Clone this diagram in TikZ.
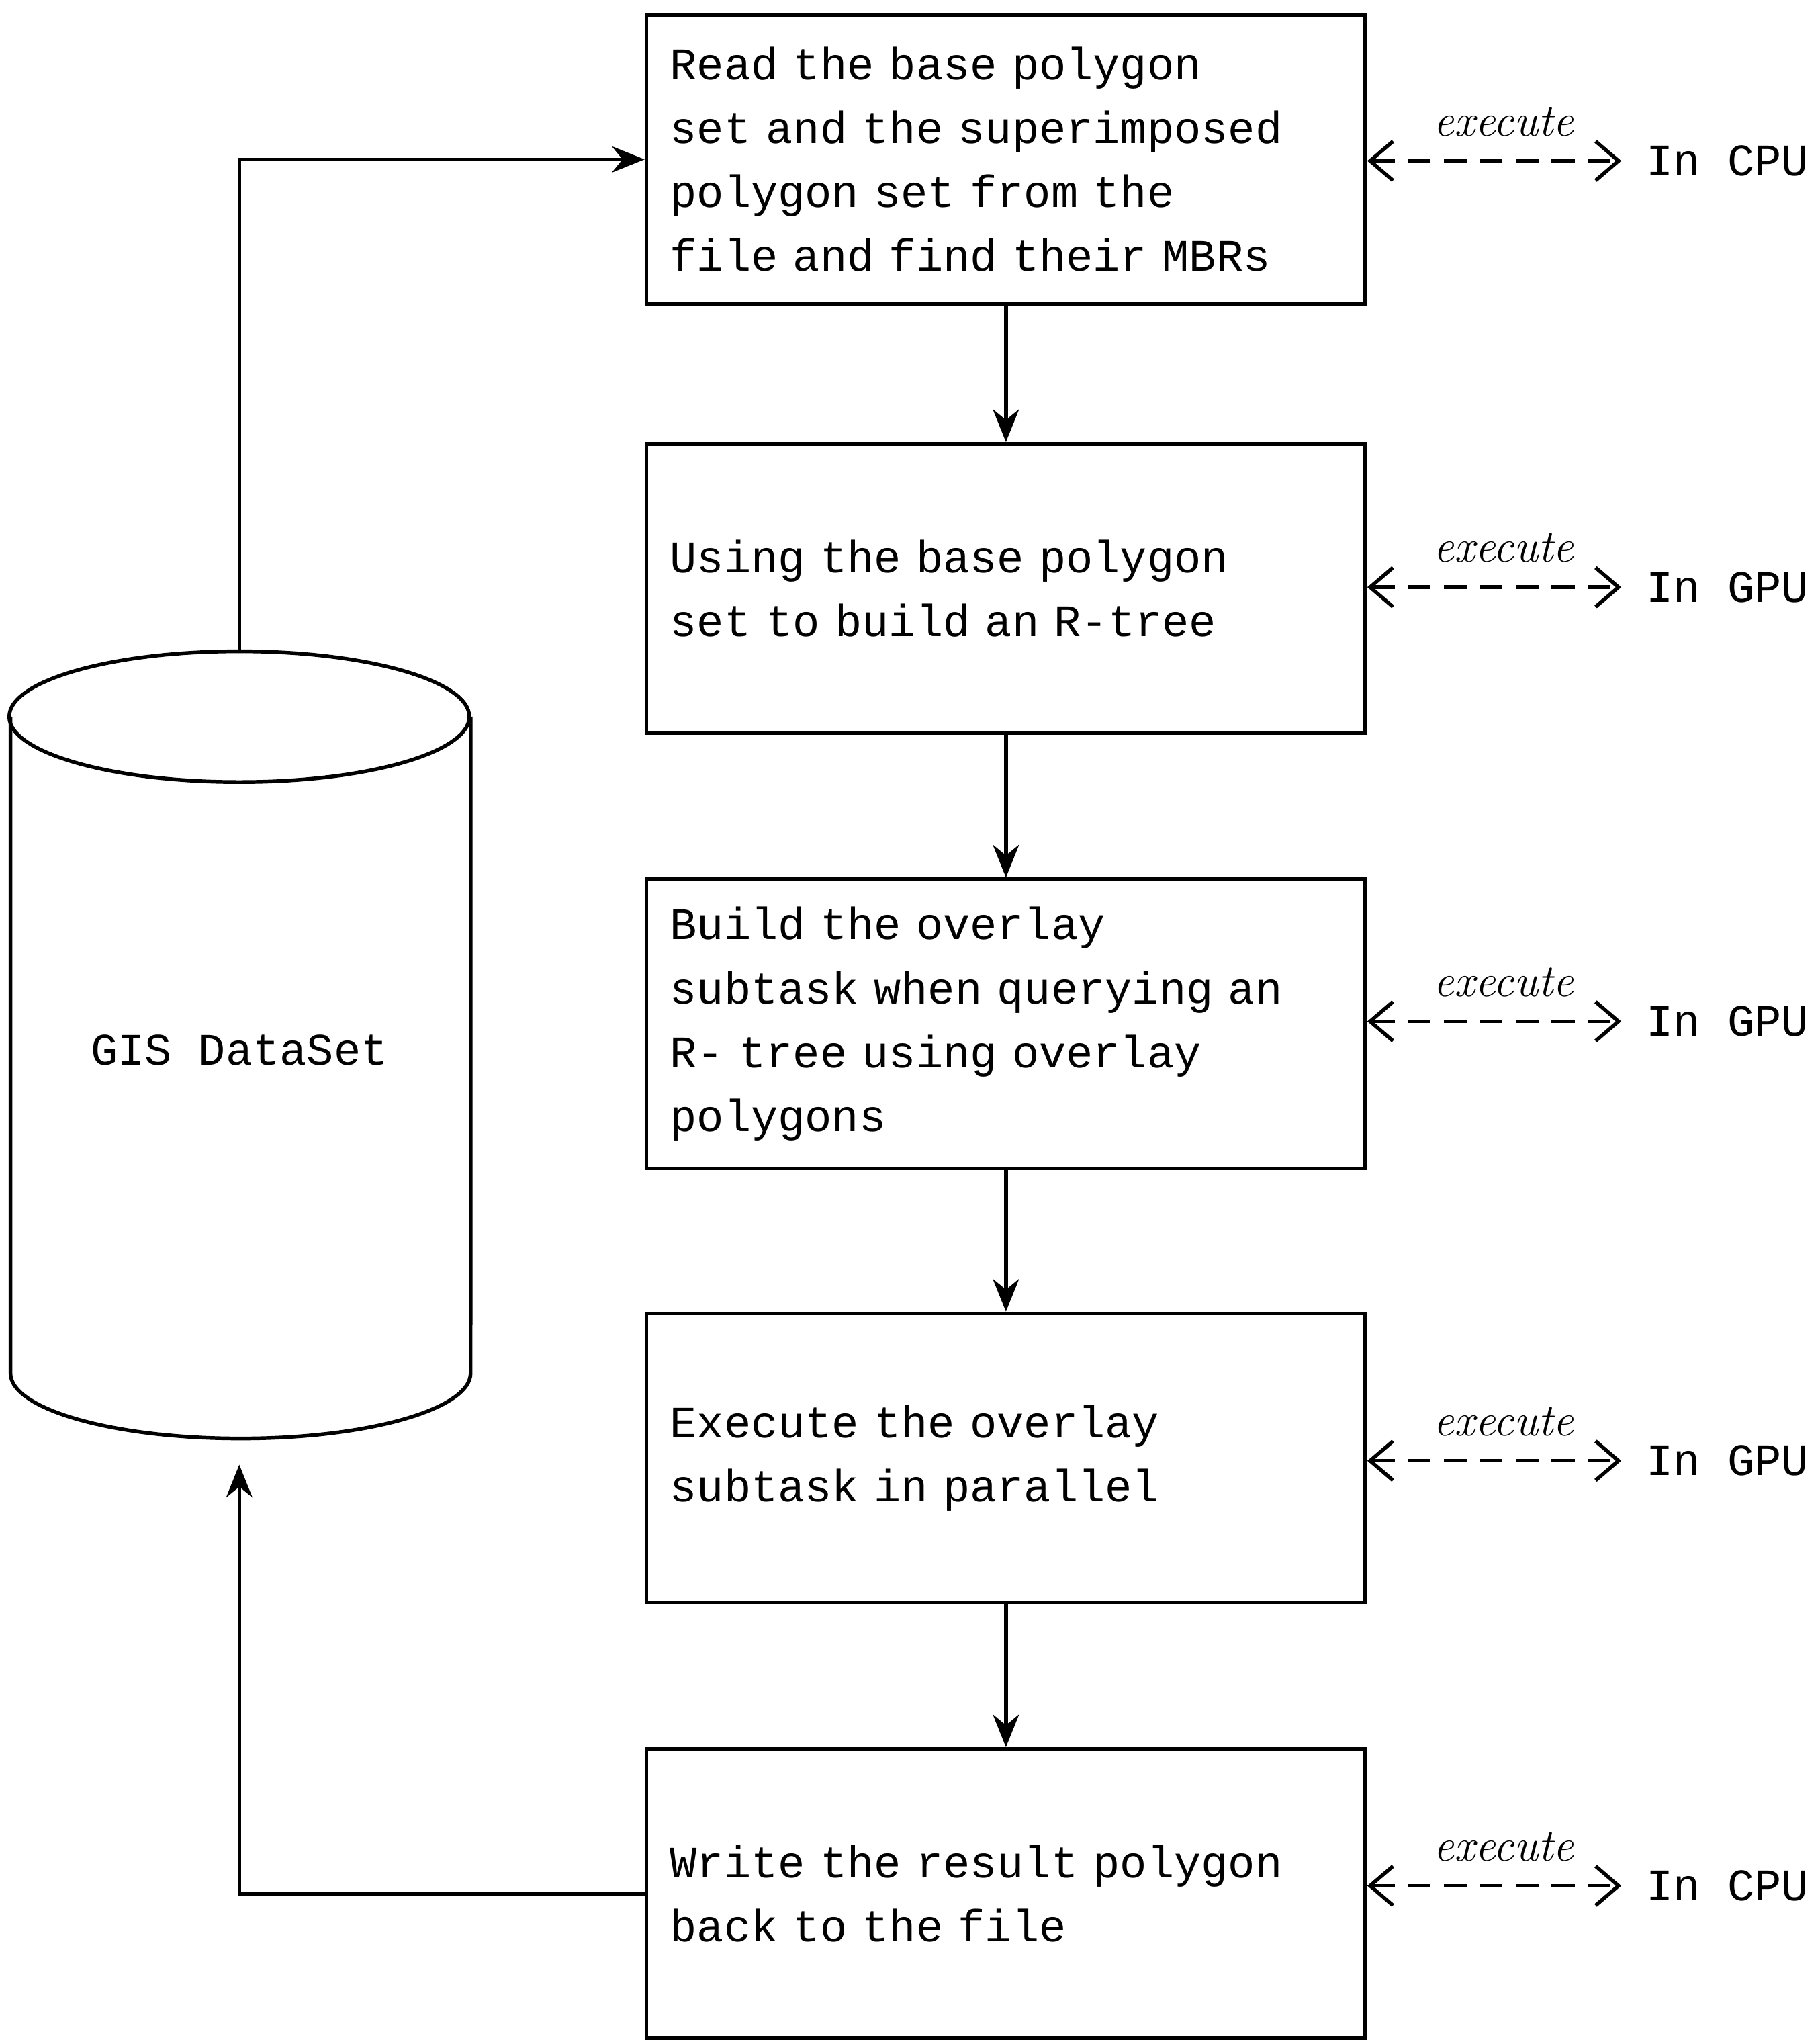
\documentclass[tikz,border=0pt]{standalone}
\usepackage{fontspec}
\setmonofont{Liberation Mono}
\usetikzlibrary{arrows.meta}
\begin{document}
\begin{tikzpicture}[x=0.02cm,y=-0.02cm,line width=1.6pt,
  box/.style={draw,minimum width=11cm,minimum height=4.42cm,text width=10.28cm,
    inner xsep=0.36cm,align=left,anchor=north west,
    font=\fontsize{19.6}{27.8}\selectfont\ttfamily},
  flow/.style={-{Stealth[length=0.5cm,width=0.4cm]}},
  exec/.style={dashed,dash pattern=on 0.35cm off 0.2cm,{Straight Barb[length=0.35cm,width=0.6cm]}-{Straight Barb[length=0.35cm,width=0.6cm]}},
  lab/.style={font=\fontsize{19.6}{24}\selectfont\ttfamily,anchor=west},
  ex/.style={font=\fontsize{20}{24}\selectfont\itshape}]
\useasboundingbox (0,0) rectangle (1390,1563);
% Boxes
\node[box] (b1) at (493,10) {Read the base polygon\\set and the superimposed\\polygon set from the\\file and find their MBRs};
\node[box] (b2) at (493,338) {Using the base polygon\\set to build an R-tree};
\node[box] (b3) at (493,671) {Build the overlay\\subtask when querying an\\R- tree using overlay\\polygons};
\node[box] (b4) at (493,1003) {Execute the overlay\\subtask in parallel};
\node[box] (b5) at (493,1336) {Write the result polygon\\back to the file};
\foreach \a/\b in {b1/b2,b2/b3,b3/b4,b4/b5}
  \draw[flow] (\a.south) -- (\b.north);
% Database cylinder
\draw (8,548) -- (8,1050) arc[start angle=180,delta angle=180,x radius=3.52cm,y radius=1cm]
  -- (360,548);
\draw (183,548) ellipse[x radius=3.52cm,y radius=1cm];
\coordinate (cyltop) at (183,498);
\coordinate (cylbot) at (183,1120);
\node[lab,anchor=center] (gis) at (183,803) {GIS DataSet};
\draw[flow] (cyltop) |- (b1.west);
\draw[flow] (b5.west) -| (cylbot);
% Execution targets
\foreach \n/\y/\t in {b1/123/CPU,b2/449/GPU,b3/781/GPU,b4/1117/GPU,b5/1442/CPU}{
  \coordinate (e\n) at (1240,\y);
  \node[lab] (t\n) at (1252,\y) {In \t};
  \draw[exec] (\n.east |- e\n) -- (e\n);
  \node[ex] (x\n) at (1150,\y-30) {execute};
}
\end{tikzpicture}
\end{document}
